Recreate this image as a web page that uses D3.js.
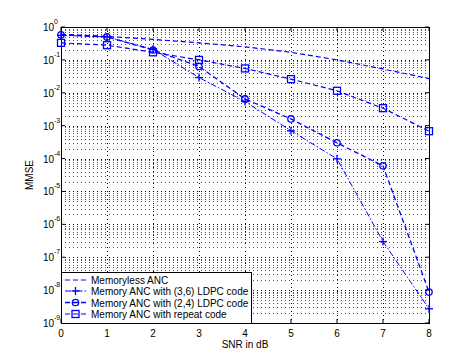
<!DOCTYPE html>
<html><head><meta charset="utf-8">
<script src="https://cdn.jsdelivr.net/npm/d3@7"></script>
<style>body{margin:0;background:#fff}svg{display:block}</style>
</head><body>
<script>
const snr = [0,1,2,3,4,5,6,7,8];
const memoryless = [0.6,0.52,0.42,0.33,0.25,0.17,0.1,0.053,0.027];
const ldpc36 = [0.56,0.5,0.21,0.029,0.0054,0.0007,0.000098,0.0000003,0.0000000027];
const ldpc24 = [0.58,0.5,0.2,0.063,0.0065,0.0016,0.0003,0.00006,0.0000000087];
const repeat = [0.33,0.28,0.17,0.1,0.055,0.026,0.0115,0.0034,0.00068];
const seriesNames = ["Memoryless ANC","Memory ANC with (3,6) LDPC code","Memory ANC with (2,4) LDPC code","Memory ANC with repeat code"];
const xTicks = [0,1,2,3,4,5,6,7,8];
const yExps = [0,-1,-2,-3,-4,-5,-6,-7,-8,-9];

const W=474,H=363, L=61,R=429,T=27,B=323;
const svg=d3.select("body").append("svg").attr("width",W).attr("height",H);
const x=d3.scaleLinear().domain([0,8]).range([L,R]);
const y=d3.scaleLog().domain([1e-9,1]).range([B,T]);
const font="Liberation Sans, Arial, sans-serif";

// grid
const g=svg.append("g");
xTicks.forEach(t=>{ if(t>0&&t<8) g.append("line").attr("x1",Math.round(x(t))+0.5).attr("x2",Math.round(x(t))+0.5).attr("y1",T).attr("y2",B)
  .attr("stroke","#000").attr("stroke-width",1).attr("stroke-dasharray","1,3");});
for(let e=-9;e<0;e++){
  for(let m=1;m<10;m++){
    const v=m*Math.pow(10,e);
    if(m===1&&e===-9) continue;
    const yy=Math.round(y(v))+0.5;
    g.append("line").attr("x1",L).attr("x2",R).attr("y1",yy).attr("y2",yy)
     .attr("stroke",m===1?"#000":"#555").attr("stroke-width",1).attr("stroke-dasharray","1,3");
  }
}
// axes box
svg.append("rect").attr("x",L+0.5).attr("y",T+0.5).attr("width",R-L).attr("height",B-T).attr("fill","none").attr("stroke","#000");
// ticks
xTicks.forEach(t=>{
  svg.append("line").attr("x1",x(t)).attr("x2",x(t)).attr("y1",B).attr("y2",B-4).attr("stroke","#000");
  svg.append("line").attr("x1",x(t)).attr("x2",x(t)).attr("y1",T).attr("y2",T+4).attr("stroke","#000");
  svg.append("text").attr("x",x(t)).attr("y",B+14).attr("text-anchor","middle").attr("font-family",font).attr("font-size",10).text(t);
});
yExps.forEach(e=>{
  const yy=y(Math.pow(10,e));
  svg.append("line").attr("x1",L).attr("x2",L+4).attr("y1",yy).attr("y2",yy).attr("stroke","#000");
  svg.append("line").attr("x1",R-4).attr("x2",R).attr("y1",yy).attr("y2",yy).attr("stroke","#000");
  svg.append("text").attr("x",54).attr("y",yy+4).attr("text-anchor","end").attr("font-family",font).attr("font-size",10).text("10");
  svg.append("text").attr("x",54).attr("y",yy-3).attr("text-anchor","start").attr("font-family",font).attr("font-size",7).text(e);
});
svg.append("text").attr("x",x(4)).attr("y",348).attr("text-anchor","middle").attr("font-family",font).attr("font-size",10).text("SNR in dB");
svg.append("text").attr("transform","translate(33,"+((T+B)/2)+") rotate(-90)").attr("text-anchor","middle").attr("font-family",font).attr("font-size",10).text("MMSE");

const blue="#0000ff";
const styles=[
  {data:memoryless,dash:"5,3",marker:null,w:1.2},
  {data:ldpc36,dash:"6,2,1.5,2",marker:"plus",w:1},
  {data:ldpc24,dash:"5,3",marker:"circle",w:1.3},
  {data:repeat,dash:"5,3",marker:"square",w:1.2}
];
const line=d3.line().x((d,i)=>x(snr[i])).y(d=>y(d));
function drawMarker(sel,type,cx,cy){
  if(type==="plus"){
    sel.append("line").attr("x1",cx-4).attr("x2",cx+4).attr("y1",cy).attr("y2",cy).attr("stroke",blue).attr("stroke-width",1.3);
    sel.append("line").attr("x1",cx).attr("x2",cx).attr("y1",cy-4).attr("y2",cy+4).attr("stroke",blue).attr("stroke-width",1.3);
  } else if(type==="circle"){
    sel.append("circle").attr("cx",cx).attr("cy",cy).attr("r",3.2).attr("fill","none").attr("stroke",blue).attr("stroke-width",1.3);
  } else if(type==="square"){
    sel.append("rect").attr("x",cx-3.5).attr("y",cy-3.5).attr("width",7).attr("height",7).attr("fill","none").attr("stroke",blue).attr("stroke-width",1.3);
  }
}
styles.forEach(s=>{
  const gg=svg.append("g");
  gg.append("path").attr("d",line(s.data)).attr("fill","none").attr("stroke",blue).attr("stroke-width",s.w).attr("stroke-dasharray",s.dash);
  if(s.marker) s.data.forEach((d,i)=>drawMarker(gg,s.marker,x(snr[i]),y(d)));
});

// legend
const lg=svg.append("g");
lg.append("rect").attr("x",L+0.5).attr("y",272.5).attr("width",190).attr("height",B-272).attr("fill","#fff").attr("stroke","#000");
const ly=[280,291,302.5,314];
styles.forEach((s,i)=>{
  lg.append("line").attr("x1",65).attr("x2",86).attr("y1",ly[i]).attr("y2",ly[i]).attr("stroke",blue).attr("stroke-width",s.w).attr("stroke-dasharray",s.dash);
  if(s.marker) drawMarker(lg,s.marker,75.5,ly[i]);
  lg.append("text").attr("x",91).attr("y",ly[i]+4).attr("font-family",font).attr("font-size",10).text(seriesNames[i]);
});
</script>
</body></html>
